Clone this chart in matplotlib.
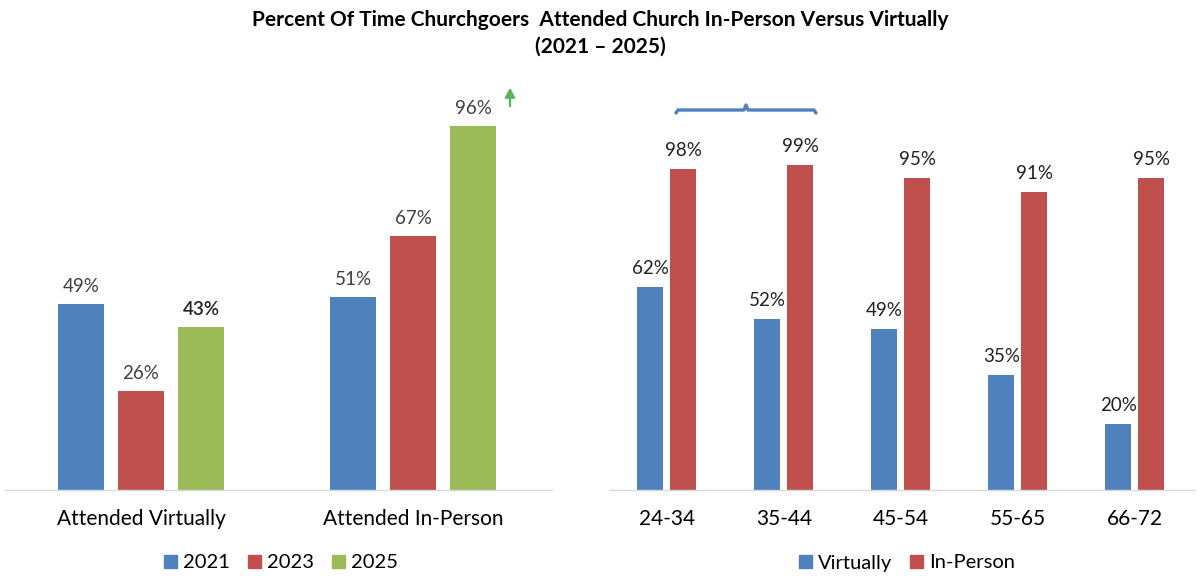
import matplotlib
matplotlib.use("Agg")
import matplotlib.pyplot as plt
from matplotlib.patches import Patch, FancyArrowPatch
from matplotlib.lines import Line2D
from matplotlib import font_manager as fm
import numpy as np

# ---------------- data ----------------
groups_left = ["Attended Virtually", "Attended In-Person"]
years = ["2021", "2023", "2025"]
vals_2021 = [49, 51]
vals_2023 = [26, 67]
vals_2025 = [43, 96]

ages = ["24-34", "35-44", "45-54", "55-65", "66-72"]
virtually = [62, 52, 49, 35, 20]
in_person = [98, 99, 95, 91, 95]

title_text = "Percent Of Time Churchgoers  Attended Church In-Person Versus Virtually\n(2021 \u2013 2025)"

# ---------------- style ----------------
BLUE = "#4F81BD"
RED = "#C0504D"
GREEN = "#9BBB59"
LBL = "#404040"

names = {f.name for f in fm.fontManager.ttflist}
body_font = [f for f in ["Lato", "DejaVu Sans"] if f in names] or ["DejaVu Sans"]
plt.rcParams["font.family"] = body_font

W, H = 1200, 581
fig = plt.figure(figsize=(W / 100, H / 100), dpi=100)


def fx(px):
    return px / W


def fy(py):
    return 1 - py / H


# left axes: baseline at y=490, 100% at y=111
axL = fig.add_axes([fx(5), fy(490), fx(552) - fx(5), (490 - 111) / H])
# right axes: baseline at y=490, 100% at y=162
axR = fig.add_axes([fx(610), fy(490), fx(1195) - fx(610), (490 - 162) / H])

for ax in (axL, axR):
    for s in ("left", "right", "top"):
        ax.spines[s].set_visible(False)
    ax.spines["bottom"].set_color("#D9D9D9")
    ax.spines["bottom"].set_linewidth(1.0)
    ax.set_yticks([])
    ax.set_ylim(0, 100)
    ax.tick_params(axis="x", length=0, pad=14, labelsize=15, labelcolor="#000000")
    ax.set_facecolor("none")

# ---- left chart ----
xL = np.arange(len(groups_left))
wL = 0.169
offL = 0.2206
series = [vals_2021, vals_2023, vals_2025]
colors = [BLUE, RED, GREEN]
for i, (vals, c) in enumerate(zip(series, colors)):
    xs = xL + (i - 1) * offL
    axL.bar(xs, vals, width=wL, color=c, zorder=2)
    for x, v in zip(xs, vals):
        bold = (i == 2 and v == 43)
        axL.annotate(f"{v}%", (x, v), xytext=(0, 9), textcoords="offset pixels",
                     ha="center", va="bottom", fontsize=13.5,
                     color="#222222" if bold else LBL,
                     fontweight="semibold" if bold else "normal", annotation_clip=False)
axL.set_xlim(-0.5, 1.511)
axL.set_xticks(xL)
axL.set_xticklabels(groups_left)

# ---- right chart ----
xR = np.arange(len(ages))
wR = 0.222
offR = 0.141
for vals, c, sgn in [(virtually, BLUE, -1), (in_person, RED, 1)]:
    xs = xR + sgn * offR
    axR.bar(xs, vals, width=wR, color=c, zorder=2)
    for x, v in zip(xs, vals):
        axR.annotate(f"{v}%", (x, v), xytext=(0, 10), textcoords="offset pixels",
                     ha="center", va="bottom", fontsize=13.5, color="#222222",
                     annotation_clip=False)
axR.set_xlim(-0.487, 4.513)
axR.set_xticks(xR)
axR.set_xticklabels(ages)

# ---- legends ----
fig.legend(handles=[Patch(color=c, label=y) for c, y in zip(colors, years)],
           loc="center", bbox_to_anchor=(fx(281), fy(563)), ncol=3, frameon=False,
           fontsize=14.5, handlelength=0.65, handleheight=0.65, handletextpad=0.3,
           columnspacing=0.9)
fig.legend(handles=[Patch(color=BLUE, label="Virtually"), Patch(color=RED, label="In-Person")],
           loc="center", bbox_to_anchor=(fx(907), fy(563)), ncol=2, frameon=False,
           fontsize=14.5, handlelength=0.65, handleheight=0.65, handletextpad=0.3,
           columnspacing=0.9)

# ---- title ----
fig.text(0.5, fy(33), title_text, ha="center", va="center", fontsize=15,
         fontweight="bold", linespacing=1.4, color="#000000")

# ---- decorations: green arrow and blue bracket ----
fig.add_artist(FancyArrowPatch(
    (fx(510), fy(109)), (fx(510), fy(85)), transform=fig.transFigure,
    arrowstyle="-|>,head_length=0.55,head_width=0.3", color="#5BB35B", lw=1.6,
    mutation_scale=10))

bx = [fx(676), fx(678), fx(744), fx(746), fx(748), fx(814), fx(816)]
by = [fy(113), fy(110), fy(110), fy(105), fy(110), fy(110), fy(113)]
fig.add_artist(Line2D(bx, by, transform=fig.transFigure, color=BLUE, lw=2.4,
                      solid_capstyle="round", solid_joinstyle="round"))

fig.savefig("out.png", dpi=100)
